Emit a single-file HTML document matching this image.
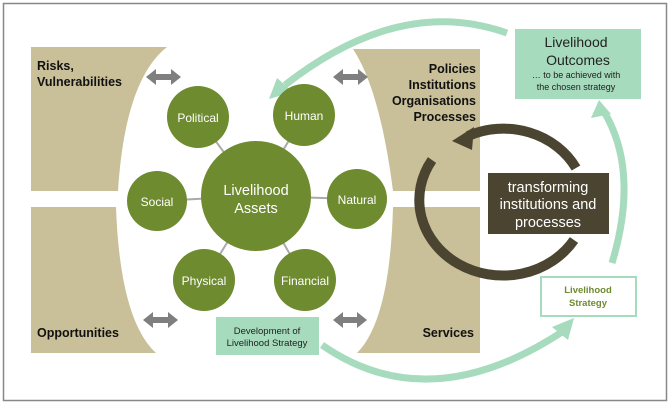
<!DOCTYPE html>
<html><head><style>
html,body{margin:0;padding:0;background:#fff;}
svg{display:block;}
text{font-family:"Liberation Sans",Arial,sans-serif;}
</style></head><body>
<svg width="671" height="405" viewBox="0 0 671 405" xmlns="http://www.w3.org/2000/svg">
<rect x="3.5" y="3.5" width="663" height="397" fill="#fff" stroke="#888" stroke-width="1.5"/>
<!-- left tan -->
<path d="M31,47 L167,47 Q125,80 118,191 L31,191 Z" fill="#c9bf98"/>
<path d="M31,207 L116,207 Q120,320 156,353 L31,353 Z" fill="#c9bf98"/>
<!-- right tan -->
<path d="M353,49 L480,49 L480,191 L393,191 Q380,90 353,49 Z" fill="#c9bf98"/>
<path d="M393,207 L480,207 L480,353 L357,353 Q390,320 393,207 Z" fill="#c9bf98"/>
<!-- green outer arcs -->
<g fill="none" stroke="#a6dbbd" stroke-width="7">
<path d="M507,33 Q400,-5 285,85"/>
<path d="M322,345 Q430,420 565,330"/>
<path d="M612,263 Q640,170 603,110"/>
</g>
<g fill="#a6dbbd">
<polygon points="269,99 277,78 293,92"/>
<polygon points="574,318 568,340 552,327"/>
<polygon points="599,100 591,118 611,114"/>
</g>
<!-- dark ring -->
<g fill="none" stroke="#4a4431" stroke-width="10">
<path d="M576,168 A82,74 0 0 0 468,136"/>
<path d="M432,160 A82,74 0 1 0 574,240"/>
</g>
<polygon points="452,141 474,127 472,150" fill="#4a4431"/>
<!-- transforming box -->
<rect x="488" y="173" width="121" height="61" fill="#4a4431"/>
<text fill="#fff" font-size="14.5" text-anchor="middle"><tspan x="548" y="192">transforming</tspan><tspan x="548" y="209">institutions and</tspan><tspan x="548" y="227">processes</tspan></text>
<!-- spokes -->
<g stroke="#aaa" stroke-width="2">
<line x1="256" y1="196" x2="198" y2="117"/><line x1="256" y1="196" x2="304" y2="115"/>
<line x1="256" y1="196" x2="157" y2="201"/><line x1="256" y1="196" x2="357" y2="199"/>
<line x1="256" y1="196" x2="204" y2="280"/><line x1="256" y1="196" x2="305" y2="280"/>
</g>
<g fill="#6e8b30">
<circle cx="256" cy="196" r="55"/>
<circle cx="198" cy="117" r="31"/><circle cx="304" cy="115" r="31"/>
<circle cx="157" cy="201" r="30"/><circle cx="357" cy="199" r="30"/>
<circle cx="204" cy="280" r="31"/><circle cx="305" cy="280" r="31"/>
</g>
<g fill="#fff" text-anchor="middle" font-size="12">
<text x="256" y="195" font-size="14.5">Livelihood</text>
<text x="256" y="213" font-size="14.5">Assets</text>
<text x="198" y="122">Political</text><text x="304" y="120">Human</text>
<text x="157" y="206">Social</text><text x="357" y="204">Natural</text>
<text x="204" y="285">Physical</text><text x="305" y="285">Financial</text>
</g>
<!-- gray arrows -->
<g fill="#7f7f7f">
<polygon points="146,77 156,69 156,74 171,74 171,69 181,77 171,85 171,80 156,80 156,85"/>
<polygon points="143,320 153,312 153,317 168,317 168,312 178,320 168,328 168,323 153,323 153,328"/>
<polygon points="333,77 343,69 343,74 358,74 358,69 368,77 358,85 358,80 343,80 343,85"/>
<polygon points="333,320 343,312 343,317 357,317 357,312 367,320 357,328 357,323 343,323 343,328"/>
</g>
<!-- labels -->
<g font-weight="bold" font-size="12.5" fill="#111">
<text x="37" y="70">Risks,</text><text x="37" y="86">Vulnerabilities</text>
<text x="37" y="337">Opportunities</text>
<g text-anchor="end"><text x="476" y="73">Policies</text><text x="476" y="89">Institutions</text><text x="476" y="105">Organisations</text><text x="476" y="121">Processes</text><text x="474" y="337">Services</text></g>
</g>
<!-- boxes -->
<rect x="515" y="29" width="126" height="70" fill="#a6dbbd"/>
<text text-anchor="middle" fill="#222"><tspan x="576" y="47" font-size="14">Livelihood</tspan><tspan x="578" y="65" font-size="14">Outcomes</tspan><tspan x="576" y="78" font-size="9">… to be achieved with</tspan><tspan x="576" y="90" font-size="9">the chosen strategy</tspan></text>
<rect x="541" y="277" width="95" height="39" fill="#fff" stroke="#a6dbbd" stroke-width="2"/>
<text text-anchor="middle" fill="#6e8b30" font-weight="bold" font-size="9.5"><tspan x="588" y="293">Livelihood</tspan><tspan x="588" y="306">Strategy</tspan></text>
<rect x="216" y="317" width="103" height="38" fill="#a6dbbd"/>
<text text-anchor="middle" fill="#222" font-size="9.5"><tspan x="267" y="334">Development of</tspan><tspan x="267" y="346">Livelihood Strategy</tspan></text>
</svg>
</body></html>
